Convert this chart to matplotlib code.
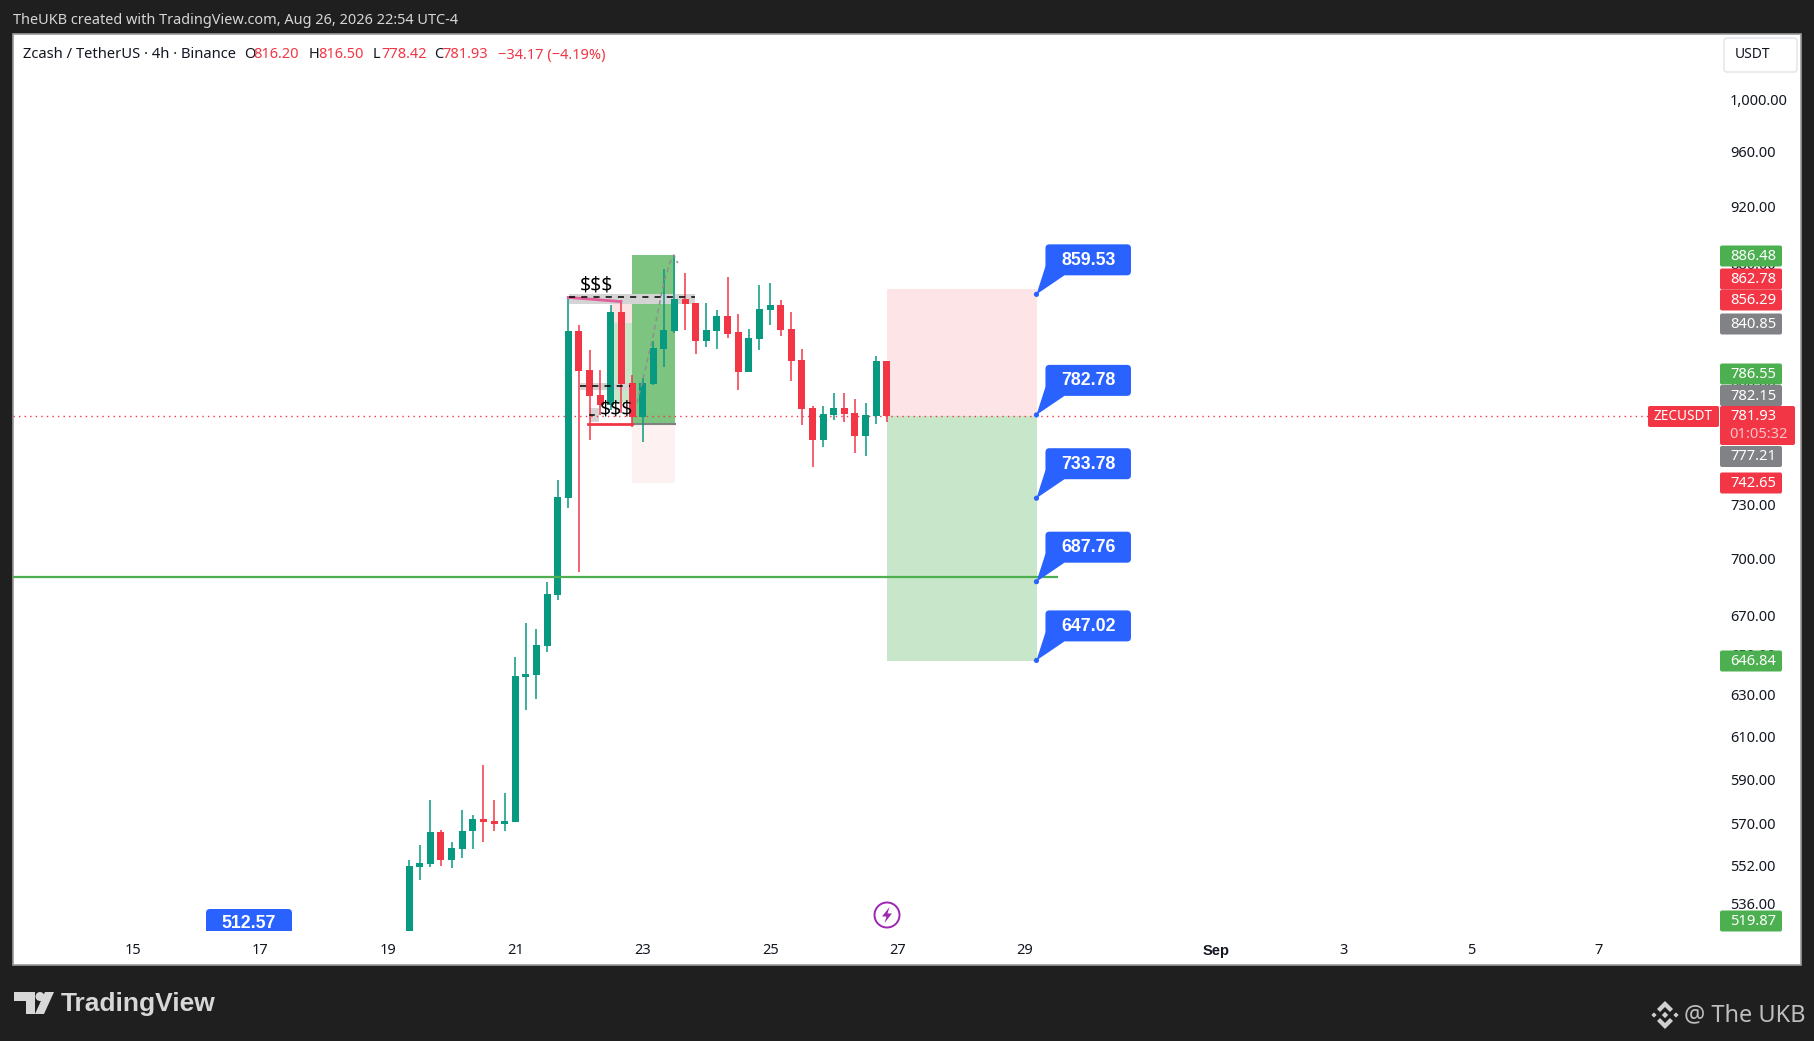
import matplotlib
matplotlib.use('Agg')
import matplotlib.pyplot as plt
from matplotlib.patches import Rectangle, FancyBboxPatch, Polygon, Circle

plt.rcParams['font.family'] = ['Noto Sans', 'DejaVu Sans']
BOLD = ['Liberation Sans', 'DejaVu Sans']

# candles are 4h, start at Aug 19 08:00 and the first one is cut by the pane
first_candle_day = 19.333
opens = [519.87, 551.3, 552.6, 566.2, 554.3, 559.1, 566.6, 571.9, 571.4, 569.7,
         571.0, 638.6, 639.6, 654.5, 680.9, 733.9, 835.5, 810.6, 795.0, 788.9,
         847.9, 802.4, 781.5, 801.8, 823.9, 835.5, 856.5, 853.9, 829.0, 835.5,
         845.3, 834.8, 809.3, 830.3, 849.2, 852.5, 836.8, 816.9, 787.0, 767.7,
         782.8, 787.0, 784.0, 770.0, 782.1, 816.20]
highs = [554.3, 560.9, 580.7, 567.4, 561.8, 576.3, 574.1, 596.6, 580.7, 583.8,
         648.5, 666.3, 663.2, 687.8, 744.2, 857.8, 839.4, 823.2, 810.6, 852.5,
         855.8, 807.4, 805.6, 829.0, 876.6, 886.48, 873.8, 853.9, 853.9, 849.2,
         871.1, 846.6, 836.8, 865.7, 867.1, 855.8, 847.9, 823.9, 788.2, 788.2,
         796.2, 796.2, 792.5, 790.0, 819.4, 816.50]
lows = [519.87, 545.7, 551.3, 551.7, 550.8, 555.2, 559.1, 562.2, 566.6, 567.0,
        571.0, 622.7, 628.0, 651.4, 678.2, 728.2, 693.0, 767.7, 782.7, 785.8,
        783.9, 775.5, 766.5, 801.2, 812.5, 834.2, 836.1, 820.7, 825.2, 823.9,
        831.0, 798.1, 809.3, 823.2, 839.4, 832.3, 803.7, 776.7, 751.8, 763.5,
        779.7, 778.4, 760.0, 758.0, 777.2, 778.42]
closes = [551.7, 553.0, 566.2, 554.3, 559.5, 567.0, 571.9, 571.0, 569.7, 571.4,
          639.1, 640.1, 655.0, 681.4, 734.5, 835.5, 810.0, 794.4, 788.9, 847.9,
          801.8, 781.5, 802.4, 824.5, 836.1, 856.5, 853.2, 829.0, 836.1, 845.3,
          833.5, 809.3, 831.0, 849.9, 852.5, 836.1, 816.3, 786.4, 767.7, 783.4,
          787.0, 783.4, 770.0, 782.8, 816.3, 781.93]

price_ticks = [1000, 960, 920, 880, 840, 800, 760, 730, 700, 670, 650, 630, 610, 590, 570, 552, 536]
day_ticks = [15, 17, 19, 21, 23, 25, 27, 29, 32, 34, 36, 38]
day_labels = ['15', '17', '19', '21', '23', '25', '27', '29', 'Sep', '3', '5', '7']

# pills on the price scale, (text, colour, y pixel)
pill_values = ['886.48', '862.78', '856.29', '840.85', '786.55', '782.15', '777.21', '742.65', '646.84', '519.87']
pill_kinds = ['g', 'r', 'r', 'k', 'g', 'k', 'k', 'r', 'g', 'g']
pill_rows = [256, 279, 300, 324, 374, 395.5, 456.5, 483, 661, 921]

# position tool and callouts
pos_start, pos_end = 26.833, 29.19
pos_stop, pos_entry, pos_target = 862.78, 781.93, 646.84
callouts = [859.53, 782.78, 733.78, 687.76, 647.02]
support_price = 690.4
support_end = 29.52

# smart money boxes, (day0, day1, price0, price1)
main_box = (22.832, 23.507, 777.3, 886.48)
main_box_low = (22.832, 23.507, 742.65, 777.3)
small_stop = (22.502, 22.832, 840.85, 855.1)
small_target = (22.502, 22.832, 790.0, 840.85)
curve_days = [22.91, 23.05, 23.16, 23.33, 23.43, 23.49, 23.55]
curve_prices = [790.0, 812.5, 831.6, 867.0, 881.3, 886.2, 880.6]

GREEN = '#089981'
RED = '#f23645'
BLUE = '#2962ff'
PILL = {'g': '#4caf50', 'r': '#f23645', 'k': '#808285'}
W, H = 1814, 1041

fig = plt.figure(figsize=(W / 100, H / 100), dpi=100, facecolor='#1f1f1f')


def pane(left, top, right, bottom):
    return [left / W, 1 - bottom / H, (right - left) / W, (bottom - top) / H]


bg = fig.add_axes([0, 0, 1, 1], zorder=0)
bg.set_xlim(0, W)
bg.set_ylim(H, 0)
bg.axis('off')
bg.add_patch(Rectangle((13, 34), 1788, 931, fc='white', ec='#9a9a9a', lw=1.2))

ax = fig.add_axes(pane(13, 34, 1716, 931), zorder=1)
ax.patch.set_alpha(0)
ax.set_yscale('log')
ax.set_xlim(13.115, 39.85)
ax.set_ylim(524.5, 1051.9)
for s in ax.spines.values():
    s.set_visible(False)
ax.minorticks_off()
ax.set_yticks(price_ticks, [f'{t:,.2f}' for t in price_ticks])
ax.yaxis.tick_right()
ax.tick_params(axis='y', which='both', length=0, pad=10, labelsize=10.5, labelcolor='#131722')
ax.set_xticks(day_ticks, day_labels)
ax.tick_params(axis='x', length=0, pad=9, labelsize=10.5, labelcolor='#131722')
ax.get_xticklabels()[8].set_fontfamily(BOLD)
ax.get_xticklabels()[8].set_fontweight('bold')

# position tool
ax.fill_between([pos_start, pos_end], pos_entry, pos_stop, color='#fde4e6', lw=0, zorder=1)
ax.fill_between([pos_start, pos_end], pos_target, pos_entry, color='#c8e6c9', lw=0, zorder=1)

# boxes behind the candles
for box, col in [(main_box, '#7cc47f'), (main_box_low, '#fdf1f2'), (small_stop, '#fde2e4'), (small_target, '#c8e6c9')]:
    ax.fill_between(box[:2], box[2], box[3], color=col, lw=0, zorder=1)
ax.plot(main_box[:2], [777.3, 777.3], color='#808080', lw=1.5, zorder=2)
ax.fill_between([21.843, 23.82], 853.0, 859.5, color='#d4d4d4', lw=0, zorder=1.5)
ax.fill_between([22.015, 22.80], 798.1, 802.4, color='#d4d4d4', lw=0, zorder=1.5)
ax.fill_between([22.173, 22.31], 778.4, 787.0, color='#d4d4d4', lw=0, zorder=1.5)

ax.hlines(closes[-1], 13.115, 38.78, color=RED, lw=1, linestyles=(0, (1, 3)), zorder=2)
ax.hlines(support_price, 13.115, support_end, color='#4caf50', lw=1.6, zorder=4)

days = [first_candle_day + i / 6 for i in range(len(opens))]
for d, o, h, l, c in zip(days, opens, highs, lows, closes):
    col = GREEN if c >= o else RED
    ax.vlines(d, l, h, color=col, lw=1.1, zorder=3)
    ax.bar(d, abs(c - o), width=0.11, bottom=min(o, c), color=col, lw=0, zorder=3)

ax.plot(curve_days, curve_prices, color='#8f8f8f', lw=1.1, ls=(0, (3, 2.5)), zorder=4)
ax.plot([21.83, 22.66], [857.5, 854.7], color='#e0609a', lw=2, zorder=4)
ax.plot([21.843, 23.82], [857.5, 857.5], color='black', lw=1.1, ls=(0, (4, 4)), zorder=5)
ax.plot([22.015, 22.80], [800.5, 800.5], color='black', lw=1.1, ls=(0, (4, 4)), zorder=5)
ax.plot([22.173, 22.235], [782.7, 782.7], color='black', lw=1.1, zorder=5)
ax.plot([22.146, 22.832], [777.4, 777.4], color=RED, lw=2, zorder=5)
ax.text(22.27, 865.5, '$$$', fontsize=14, ha='center', va='center', color='black', zorder=6)
ax.text(22.59, 785.8, '$$$', fontsize=14, ha='center', va='center', color='black', zorder=6)

# everything on top of the chart, in pixels
ov = fig.add_axes([0, 0, 1, 1], zorder=2)
ov.set_xlim(0, W)
ov.set_ylim(H, 0)
ov.axis('off')
ov.patch.set_alpha(0)


def to_px(day, price):
    x, y = ax.transData.transform((day, price))
    return x, H - y


for value in callouts:
    tx, ty = to_px(pos_end, value)
    tx -= 0.5
    left, right, top, bottom = tx + 9, tx + 94.5, ty - 50, ty - 19
    ov.add_patch(Polygon([(tx, ty), (left, bottom - 9), (left + 19, bottom)], fc=BLUE, lw=0, zorder=5))
    ov.add_patch(FancyBboxPatch((left + 4, top + 4), right - left - 8, bottom - top - 8,
                                boxstyle='round,pad=4', fc=BLUE, lw=0, zorder=5))
    ov.add_patch(Circle((tx, ty), 2.6, fc=BLUE, lw=0, zorder=6))
    ov.text((left + right) / 2, (top + bottom) / 2 + 0.5, f'{value:.2f}', color='white', fontsize=12.8,
            fontfamily=BOLD, fontweight='bold', ha='center', va='center', zorder=7)

clip = Rectangle((13, 34), 1788, 897, transform=ov.transData)
low_box = FancyBboxPatch((210, 913), 78, 40, boxstyle='round,pad=4', fc=BLUE, lw=0, zorder=5)
ov.add_patch(low_box)
low_box.set_clip_path(clip)
ov.text(249, 923.5, '512.57', color='white', fontsize=12.8, fontfamily=BOLD, fontweight='bold',
        ha='center', va='center', zorder=7)

ov.add_patch(Circle((887, 915), 12.5, fc='white', ec='#9c27b0', lw=1.4, zorder=5))
ov.add_patch(Polygon([(889.5, 907), (882, 916.5), (886.5, 916.5), (884.5, 923), (892, 913.5), (887.5, 913.5)],
                     fc='#9c27b0', lw=0, zorder=6))

# price scale
for text, kind, row in zip(pill_values, pill_kinds, pill_rows):
    ov.add_patch(FancyBboxPatch((1722, row - 8.5), 58, 17, boxstyle='round,pad=2', fc=PILL[kind], lw=0, zorder=5))
    ov.text(1753, row + 0.5, text, color='white', fontsize=10.6, ha='center', va='center', zorder=6)
ov.add_patch(FancyBboxPatch((1650, 408), 67, 17, boxstyle='round,pad=2', fc=RED, lw=0, zorder=5))
ov.text(1683.5, 416.5, 'ZECUSDT', color='white', fontsize=9.8, ha='center', va='center', zorder=6)
ov.add_patch(FancyBboxPatch((1722, 408), 71, 35, boxstyle='round,pad=2', fc=RED, lw=0, zorder=5))
ov.text(1753, 417, '781.93', color='white', fontsize=10.6, ha='center', va='center', zorder=6)
ov.text(1759, 435, '01:05:32', color='#fbc2c8', fontsize=10.6, ha='center', va='center', zorder=6)

ov.add_patch(FancyBboxPatch((1727, 41), 67, 28, boxstyle='round,pad=3', fc='white', ec='#e0e3eb', lw=1, zorder=5))
ov.text(1753, 55, 'USDT', color='#131722', fontsize=10, ha='center', va='center', zorder=6)

# header and legend
ov.text(13, 21, 'TheUKB created with TradingView.com, Aug 26, 2026 22:54 UTC-4', color='#d6d6d6',
        fontsize=10.45, va='center')
ov.text(23, 55, 'Zcash / TetherUS · 4h · Binance', color='#131722', fontsize=10.6, va='center')
for x, text, col in [(244, 'O', '#131722'), (253, '816.20', RED), (309, 'H', '#131722'), (318, '816.50', RED),
                     (372.5, 'L', '#131722'), (381, '778.42', RED), (434, 'C', '#131722'), (442, '781.93', RED),
                     (497.5, '−34.17 (−4.19%)', RED)]:
    ov.text(x, 55, text, color=col, fontsize=10.5, va='center')

# bottom bar
ov.add_patch(Polygon([(14, 992), (35, 992), (35, 1014), (26, 1014), (26, 1001), (14, 1001)], fc='#d8d8d8', lw=0))
ov.add_patch(Circle((40, 996.5), 4.5, fc='#d8d8d8', lw=0))
ov.add_patch(Polygon([(45, 992), (54, 992), (44, 1014), (35, 1014)], fc='#d8d8d8', lw=0))
ov.text(61, 1004, 'TradingView', color='#d8d8d8', fontsize=19, fontfamily=BOLD, fontweight='bold', va='center')

# binance mark: two chevrons, two side dots and a middle diamond
cx, cy = 1665, 1015
ov.add_patch(Polygon([(cx - 8, cy - 6), (cx, cy - 14), (cx + 8, cy - 6), (cx + 5, cy - 3), (cx, cy - 8), (cx - 5, cy - 3)],
                     fc='#d0d0d0', lw=0))
ov.add_patch(Polygon([(cx - 8, cy + 6), (cx, cy + 14), (cx + 8, cy + 6), (cx + 5, cy + 3), (cx, cy + 8), (cx - 5, cy + 3)],
                     fc='#d0d0d0', lw=0))
for dx, dy, r in [(-11, 0, 2.6), (11, 0, 2.6), (0, 0, 3.2)]:
    ov.add_patch(Polygon([(cx + dx - r, cy), (cx + dx, cy - r), (cx + dx + r, cy), (cx + dx, cy + r)],
                         fc='#d0d0d0', lw=0))
ov.text(1684, 1015, '@ The UKB', color='#bdbdbd', fontsize=17, va='center')

fig.savefig('out.png', dpi=100, facecolor=fig.get_facecolor())
